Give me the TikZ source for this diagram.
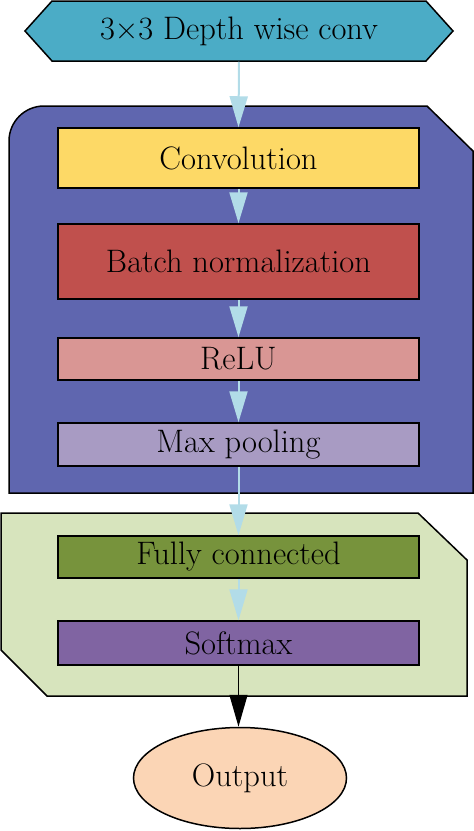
\documentclass[tikz,border=0pt]{standalone}
\usepackage{fontspec}
\usepackage{tikz}
\usetikzlibrary{arrows.meta,shapes.symbols,shapes.geometric}

\definecolor{hexcyan}{HTML}{4BACC6}
\definecolor{cnnblue}{HTML}{5F66AF}
\definecolor{clsgreen}{HTML}{D7E4BD}
\definecolor{convyellow}{HTML}{FDD966}
\definecolor{bnred}{HTML}{C0504D}
\definecolor{relupink}{HTML}{D99694}
\definecolor{poollilac}{HTML}{A89BC3}
\definecolor{fcgreen}{HTML}{77933C}
\definecolor{softpurple}{HTML}{8064A2}
\definecolor{outpeach}{HTML}{FBD5B5}
\definecolor{flowblue}{HTML}{B2DCE8}

\begin{document}
\begin{tikzpicture}[
  x=1pt,y=-1pt,
  txt/.style={font=\fontsize{32.5}{38}\selectfont},
  panel/.style={draw,line width=1.5pt},
  layer/.style={draw,line width=1.5pt,txt,minimum width=361pt,inner sep=0pt},
  flow/.style={-{Triangle[length=31pt,width=18pt]},line width=2pt,draw=flowblue,fill=flowblue},
  outarrow/.style={-{Triangle[length=32pt,width=18pt]},line width=1.5pt}
]
  \useasboundingbox (0,0) rectangle (474,831);
  \draw[panel,fill=cnnblue] (9,493) -- (9,141) arc[start angle=180,end angle=270,radius=35]
    -- (427,106) -- (473,151) -- (473,493) -- cycle;
  \draw[panel,fill=clsgreen] (1,513) -- (418,513) -- (467,560) -- (467,696) -- (47,696)
    -- (1,650) -- cycle;
  \node[signal,signal to=west and east,signal pointer angle=96,draw,line width=1.5pt,
    fill=hexcyan,txt,minimum width=428pt,minimum height=60pt,inner sep=0pt]
    (dw) at (239,31) {3×3 Depth wise conv};
  \node[layer,fill=convyellow,minimum height=60pt] (conv) at (238.5,158) {Convolution};
  \node[layer,fill=bnred,minimum height=75pt] (bn) at (238.5,261.5) {Batch normalization};
  \node[layer,fill=relupink,minimum height=42pt] (relu) at (238.5,359) {ReLU};
  \node[layer,fill=poollilac,minimum height=43pt] (pool) at (238.5,444.5) {Max pooling};
  \node[layer,fill=fcgreen,minimum height=42pt] (fc) at (238.5,557) {Fully connected};
  \node[layer,fill=softpurple,minimum height=44pt] (soft) at (238.5,643) {Softmax};
  \node[ellipse,draw,line width=1.5pt,fill=outpeach,txt,minimum width=213pt,
    minimum height=101pt,inner sep=0pt] (result) at (240,778) {Output};
  \draw[flow] (dw.south) -- (conv.north);
  \draw[flow] (conv) -- (bn);
  \draw[flow] (bn) -- (relu);
  \draw[flow] (relu) -- (pool);
  \draw[flow] (pool) -- (fc);
  \draw[flow] (fc) -- (soft);
  \draw[outarrow] (soft.south) -- (soft.south |- result.north);
\end{tikzpicture}
\end{document}
